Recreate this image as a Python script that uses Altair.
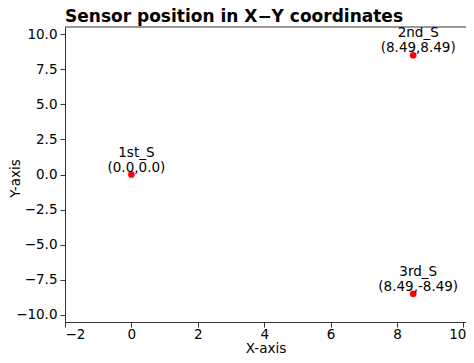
import altair as alt
import pandas as pd

names = ["1st_S", "2nd_S", "3rd_S"]
xs = [0.0, 8.49, 8.49]
ys = [0.0, 8.49, -8.49]
labels = [f"{n}\n({x},{y})" for n, x, y in zip(names, xs, ys)]

x_ticks = [-2, 0, 2, 4, 6, 8, 10]
y_ticks = [-10, -7.5, -5, -2.5, 0, 2.5, 5, 7.5, 10]
x_lim = [-2, 10.08]
y_lim = [-10.5, 10.5]

df = pd.DataFrame({"name": names, "x": xs, "y": ys, "label": labels})
frame = pd.DataFrame({"x0": [x_lim[0]], "x1": [x_lim[1]], "ytop": [y_lim[1]]})

FONT = "DejaVu Sans"

xscale = alt.Scale(domain=x_lim, nice=False, zero=False)
yscale = alt.Scale(domain=y_lim, nice=False, zero=False)

xenc = alt.X("x:Q", scale=xscale,
             axis=alt.Axis(values=x_ticks, tickCount=20, format="d", title="X-axis",
                           titleFontWeight="normal", labelOverlap=False,
                           labelPadding=0, titlePadding=1,
                           labelOffset={"condition": {"test": "datum.value == 10", "value": -6},
                                        "value": 0}))
yenc = alt.Y("y:Q", scale=yscale,
             axis=alt.Axis(values=y_ticks, tickCount=20, format=".1f", title="Y-axis",
                           titleFontWeight="normal", labelOverlap=False,
                           titleX=-46, titleY=151, titleBaseline="alphabetic"))

top_spine = alt.Chart(frame).mark_rule(color="black", strokeWidth=0.8).encode(
    x=alt.X("x0:Q", scale=xscale), x2="x1:Q", y=alt.Y("ytop:Q", scale=yscale))

points = alt.Chart(df).mark_point(filled=True, shape="circle", size=45,
                                  color="#ff0000", opacity=1).encode(x=xenc, y=yenc)

texts = alt.Chart(df).mark_text(lineBreak="\n", baseline="bottom", align="center",
                                dx=5, dy=-15, font=FONT, fontSize=13.5, clip=True,
                                lineHeight=15, color="black").encode(
    x="x:Q", y="y:Q", text="label:N")

chart = alt.layer(points, top_spine, texts).properties(
    width=401, height=295,
    title=alt.TitleParams("Sensor position in X\u2212Y coordinates", anchor="start",
                          frame="group", font=FONT, fontSize=17, fontWeight="bold",
                          color="black", offset=1),
    autosize=alt.AutoSizeParams(type="none"),
    padding={"left": 57, "top": 19, "right": 0, "bottom": 33},
).configure_view(stroke=None).configure_axis(
    grid=False, domainColor="black", domainWidth=0.8, tickColor="black", tickWidth=0.8,
    tickSize=5, labelFont=FONT, labelFontSize=13.5, labelColor="black", labelPadding=3,
    titleFont=FONT, titleFontSize=13.5, titleColor="black", titlePadding=4,
)

chart.save("out.html", embed_options={"renderer": "svg", "actions": False})
